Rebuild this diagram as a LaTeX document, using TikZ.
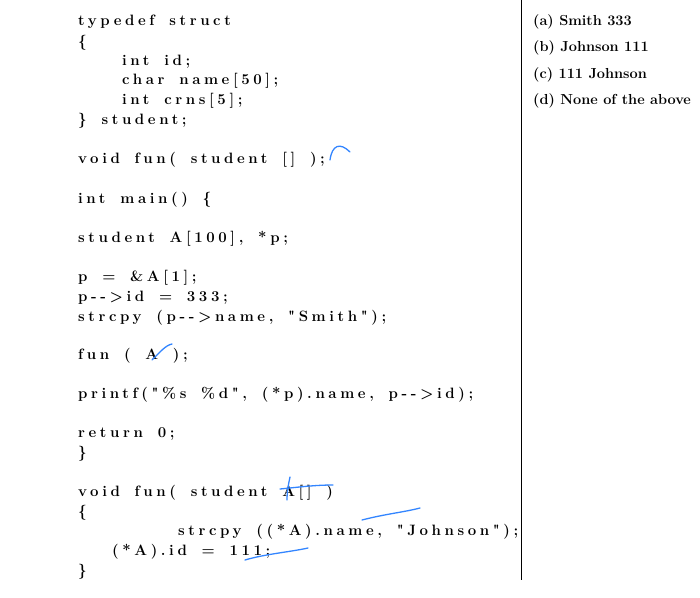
\documentclass[tikz,border=0pt]{standalone}
\usepackage{fontspec}
\setmainfont{Latin Modern Roman}
\newfontfamily\codefont[LetterSpace=24,WordSpace=1.6]{Latin Modern Roman}
\begin{document}
\begin{tikzpicture}[x=1pt,y=-1pt,
  code/.style={anchor=west,inner sep=0pt,font=\fontsize{15}{17}\selectfont\codefont\bfseries},
  opt/.style={anchor=west,inner sep=0pt,font=\fontsize{14.5}{17}\selectfont\bfseries},
  ink/.style={draw=blue!60!cyan!80,line width=1.3pt,line cap=round}]
\useasboundingbox (0,0) rectangle (700,597);
\node[code] (l1) at (78,22) {typedef struct};
\node[code] (l2) at (78,43) {\{};
\node[code] (l3) at (122,62) {int id;};
\node[code] (l4) at (122,81) {char name[50];};
\node[code] (l5) at (122,101) {int crns[5];};
\node[code] (l6) at (78,121) {\} student;};
\node[code] (l7) at (78,160) {void fun( student [] );};
\node[code] (l8) at (78,200) {int main() \{};
\node[code] (l9) at (78,239) {student A[100], *p;};
\node[code] (l10) at (78,278) {p = \&A[1];};
\node[code] (l11) at (78,298) {p-->id = 333;};
\node[code] (l12) at (78,318) {strcpy (p-->name, "Smith");};
\node[code] (l13) at (78,356) {fun ( A );};
\node[code] (l14) at (78,395) {printf("\%s \%d", (*p).name, p-->id);};
\node[code] (l15) at (78,434) {return 0;};
\node[code] (l16) at (78,454) {\}};
\node[code] (l17) at (78,493) {void fun( student A[] )};
\node[code] (l18) at (78,513) {\{};
\node[code] (l19) at (178,532) {strcpy ((*A).name, "Johnson");};
\node[code] (l20) at (112,552) {(*A).id = 111;};
\node[code] (l21) at (78,572) {\}};
\draw[line width=0.6pt] (521,0) -- (521,580);
\begin{scope}
\clip (522,0) rectangle (700,597);
\node[opt] (a) at (533,22) {(a) Smith 333};
\node[opt] (b) at (533,48) {(b) Johnson 111};
\node[opt] (c) at (533,75) {(c) 111 Johnson};
\node[opt] (d) at (533,101) {(d) None of the above};
\end{scope}
\draw[ink] (330,160) .. controls (332,145) and (340,142) .. (350,152);
\draw[ink] (152,360) .. controls (160,352) and (166,345) .. (172,344);
\draw[ink] (287,500) .. controls (287,490) and (289,482) .. (290,477);
\draw[ink] (280,489) .. controls (300,487) and (315,485) .. (333,485);
\draw[ink] (362,520) .. controls (385,514) and (405,512) .. (420,508);
\draw[ink] (245,560) .. controls (265,554) and (290,552) .. (308,548);
\end{tikzpicture}
\end{document}
